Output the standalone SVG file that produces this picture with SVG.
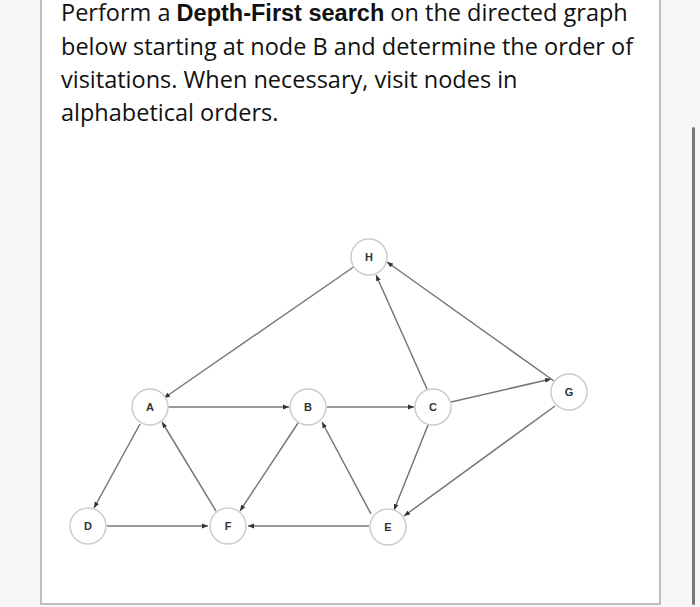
<svg xmlns="http://www.w3.org/2000/svg" width="700" height="607" viewBox="0 0 700 607">
<defs>
<style>
.t{font-family:"Open Sans","Noto Sans",sans-serif;font-size:23.5px;fill:#111}
.n circle{fill:#fff;stroke:#ccc;stroke-width:1.5}
.n text{font-family:"Liberation Sans",Arial,sans-serif;font-size:11px;font-weight:bold;fill:#333;text-anchor:middle}
.e line{stroke:#777;stroke-width:1.5;marker-end:url(#ah)}
</style>
<marker id="ah" viewBox="0 0 10 10" refX="10" refY="5" markerWidth="6" markerHeight="6" orient="auto" markerUnits="userSpaceOnUse"><path d="M0,1 L10,5 L0,9 z" fill="#333"/></marker>
</defs>
<rect x="0" y="0" width="700" height="607" fill="#f6f6f6"/>
<rect x="41" y="-2" width="619" height="606" fill="#fff" stroke="#aaa" stroke-width="1.5"/>
<rect x="692" y="127" width="3" height="478" rx="1.5" fill="#777"/>
<text class="t" x="61" y="21">Perform a <tspan font-weight="bold" font-family="Liberation Sans, Arial, sans-serif">Depth-First search</tspan> on the directed graph</text>
<text class="t" x="61" y="55">below starting at node B and determine the order of</text>
<text class="t" x="61" y="88">visitations. When necessary, visit nodes in</text>
<text class="t" x="61" y="121">alphabetical orders.</text>
<g id="edges" class="e">
<line x1="355" y1="266" x2="164" y2="398"/>
<line x1="168" y1="407" x2="289" y2="407"/>
<line x1="327" y1="407" x2="414" y2="407"/>
<line x1="427" y1="389" x2="376" y2="275"/>
<line x1="554" y1="381" x2="387" y2="262"/>
<line x1="451" y1="402" x2="551" y2="379"/>
<line x1="428" y1="425" x2="394" y2="510"/>
<line x1="555" y1="406" x2="404" y2="516"/>
<line x1="140" y1="424" x2="94" y2="508"/>
<line x1="107" y1="526" x2="208" y2="526"/>
<line x1="216" y1="511" x2="162" y2="422"/>
<line x1="298" y1="423" x2="240" y2="511"/>
<line x1="371" y1="514" x2="322" y2="422"/>
<line x1="369" y1="526" x2="248" y2="526"/>
</g>
<g id="node-H" class="n"><circle cx="369" cy="257" r="18"/><text x="369" y="261">H</text></g>
<g id="node-A" class="n"><circle cx="150" cy="407" r="18"/><text x="150" y="411">A</text></g>
<g id="node-B" class="n"><circle cx="308" cy="407" r="18"/><text x="308" y="411">B</text></g>
<g id="node-C" class="n"><circle cx="433" cy="407" r="18"/><text x="433" y="411">C</text></g>
<g id="node-G" class="n"><circle cx="569" cy="392" r="18"/><text x="569" y="396">G</text></g>
<g id="node-D" class="n"><circle cx="88" cy="526" r="18"/><text x="88" y="530">D</text></g>
<g id="node-F" class="n"><circle cx="228" cy="526" r="18"/><text x="228" y="530">F</text></g>
<g id="node-E" class="n"><circle cx="388" cy="527" r="18"/><text x="388" y="531">E</text></g>
</svg>
